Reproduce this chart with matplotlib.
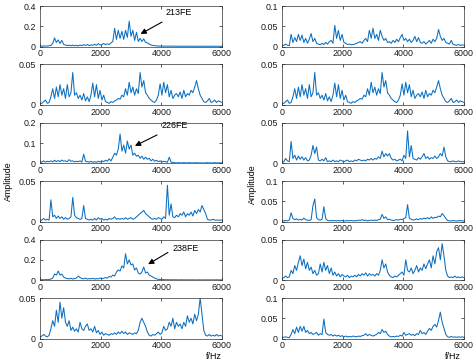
import numpy as np
import matplotlib
matplotlib.use("Agg")
import matplotlib.pyplot as plt

plt.rcParams['font.family'] = ['Liberation Sans', 'DejaVu Sans']

# Spectrum amplitudes, evenly spaced bins from 0 to 6000 Hz (60 Hz step)
L1 = [0.004,0.003,0.006,0.004,0.005,0.007,0.012,0.03,0.085,0.04,
      0.065,0.03,0.06,0.02,0.015,0.01,0.012,0.008,0.014,0.007,
      0.012,0.006,0.015,0.008,0.018,0.01,0.02,0.009,0.016,0.012,
      0.022,0.012,0.028,0.015,0.02,0.03,0.018,0.026,0.02,0.035,
      0.05,0.18,0.07,0.16,0.08,0.15,0.07,0.16,0.09,0.25,
      0.1,0.16,0.06,0.14,0.05,0.08,0.05,0.075,0.04,0.035,
      0.025,0.015,0.01,0.008,0.006,0.005,0.004,0.005,0.003,0.004,
      0.003,0.004,0.003,0.003,0.004,0.003,0.003,0.002,0.003,0.003,
      0.003,0.002,0.003,0.003,0.002,0.003,0.002,0.003,0.002,0.003,
      0.002,0.003,0.002,0.002,0.003,0.002,0.002,0.003,0.002,0.002,
      0.002]
R1 = [0.002,0.003,0.006,0.003,0.002,0.03,0.01,0.022,0.012,0.03,
      0.015,0.028,0.01,0.02,0.008,0.018,0.032,0.012,0.02,0.008,
      0.006,0.004,0.008,0.005,0.01,0.006,0.012,0.015,0.008,0.052,
      0.02,0.04,0.015,0.03,0.01,0.008,0.005,0.006,0.004,0.005,
      0.006,0.008,0.01,0.012,0.008,0.015,0.02,0.012,0.04,0.02,
      0.045,0.02,0.03,0.015,0.04,0.025,0.015,0.02,0.01,0.012,
      0.008,0.015,0.01,0.018,0.012,0.022,0.03,0.015,0.02,0.012,
      0.018,0.01,0.015,0.025,0.012,0.022,0.01,0.008,0.012,0.006,
      0.01,0.015,0.008,0.018,0.012,0.02,0.042,0.025,0.015,0.02,
      0.01,0.008,0.006,0.015,0.005,0.004,0.003,0.005,0.003,0.004,
      0.003]
L2 = [0.001,0.002,0.004,0.006,0.002,0.003,0.01,0.02,0.008,0.022,
      0.01,0.025,0.012,0.02,0.008,0.025,0.01,0.015,0.04,0.012,
      0.015,0.008,0.012,0.006,0.014,0.005,0.01,0.004,0.012,0.027,
      0.01,0.025,0.008,0.018,0.006,0.012,0.004,0.003,0.002,0.004,
      0.003,0.005,0.006,0.008,0.007,0.012,0.01,0.02,0.012,0.028,
      0.015,0.022,0.012,0.02,0.014,0.04,0.022,0.03,0.015,0.012,
      0.008,0.006,0.004,0.003,0.006,0.012,0.026,0.012,0.028,0.015,
      0.025,0.01,0.018,0.008,0.012,0.014,0.01,0.016,0.008,0.018,
      0.01,0.014,0.012,0.018,0.015,0.022,0.03,0.02,0.012,0.008,
      0.004,0.003,0.005,0.008,0.003,0.004,0.006,0.003,0.005,0.004,
      0.003]
R2 = [0.001,0.002,0.004,0.006,0.002,0.003,0.01,0.02,0.008,0.022,
      0.01,0.025,0.012,0.02,0.008,0.025,0.01,0.015,0.04,0.012,
      0.015,0.008,0.012,0.006,0.014,0.005,0.01,0.004,0.012,0.027,
      0.01,0.025,0.008,0.018,0.006,0.012,0.004,0.003,0.002,0.004,
      0.003,0.005,0.006,0.008,0.007,0.012,0.01,0.02,0.012,0.028,
      0.015,0.022,0.012,0.02,0.014,0.04,0.022,0.03,0.015,0.012,
      0.008,0.006,0.004,0.003,0.006,0.012,0.026,0.012,0.028,0.015,
      0.025,0.01,0.018,0.008,0.012,0.014,0.01,0.016,0.008,0.018,
      0.01,0.014,0.012,0.018,0.015,0.022,0.03,0.02,0.012,0.008,
      0.004,0.003,0.005,0.008,0.003,0.004,0.006,0.003,0.005,0.004,
      0.003]
L3 = [0.004,0.006,0.012,0.006,0.01,0.008,0.012,0.007,0.015,0.008,
      0.014,0.008,0.016,0.01,0.012,0.008,0.018,0.01,0.012,0.007,
      0.01,0.008,0.012,0.006,0.045,0.01,0.008,0.006,0.01,0.005,
      0.008,0.005,0.01,0.006,0.012,0.008,0.015,0.01,0.022,0.012,
      0.03,0.05,0.04,0.07,0.145,0.06,0.09,0.05,0.11,0.07,
      0.09,0.04,0.05,0.035,0.04,0.025,0.035,0.02,0.03,0.02,
      0.025,0.012,0.02,0.01,0.015,0.008,0.012,0.006,0.01,0.008,
      0.005,0.03,0.006,0.004,0.003,0.002,0.003,0.002,0.002,0.003,
      0.002,0.002,0.003,0.002,0.002,0.002,0.003,0.002,0.002,0.002,
      0.002,0.002,0.003,0.002,0.002,0.002,0.003,0.002,0.002,0.002,
      0.002]
R3 = [0.001,0.002,0.006,0.003,0.002,0.027,0.006,0.01,0.004,0.009,
      0.005,0.008,0.004,0.007,0.003,0.004,0.01,0.022,0.012,0.02,
      0.004,0.003,0.005,0.003,0.007,0.002,0.003,0.002,0.004,0.002,
      0.003,0.002,0.004,0.003,0.002,0.003,0.004,0.002,0.003,0.002,
      0.004,0.003,0.005,0.004,0.003,0.004,0.003,0.005,0.004,0.006,
      0.004,0.006,0.005,0.008,0.006,0.015,0.008,0.012,0.009,0.012,
      0.006,0.004,0.005,0.003,0.004,0.005,0.003,0.01,0.006,0.04,
      0.008,0.022,0.006,0.005,0.004,0.007,0.005,0.008,0.012,0.006,
      0.008,0.005,0.007,0.006,0.009,0.006,0.008,0.012,0.009,0.02,
      0.008,0.003,0.002,0.002,0.003,0.002,0.002,0.003,0.002,0.002,
      0.002]
L4 = [0.001,0.002,0.004,0.002,0.003,0.002,0.027,0.006,0.008,0.004,
      0.007,0.004,0.006,0.003,0.005,0.003,0.004,0.006,0.03,0.008,
      0.005,0.004,0.003,0.004,0.02,0.004,0.003,0.002,0.003,0.002,
      0.004,0.002,0.005,0.003,0.004,0.002,0.003,0.002,0.004,0.003,
      0.004,0.006,0.003,0.004,0.003,0.004,0.003,0.005,0.003,0.004,
      0.005,0.003,0.004,0.006,0.008,0.01,0.012,0.014,0.01,0.008,
      0.006,0.004,0.003,0.004,0.003,0.005,0.004,0.003,0.006,0.004,
      0.045,0.008,0.022,0.006,0.005,0.008,0.006,0.01,0.008,0.012,
      0.006,0.01,0.008,0.012,0.007,0.014,0.01,0.015,0.012,0.02,
      0.015,0.01,0.003,0.002,0.002,0.003,0.002,0.002,0.002,0.002,
      0.002]
R4 = [0.001,0.002,0.003,0.002,0.004,0.022,0.008,0.005,0.007,0.004,
      0.006,0.004,0.009,0.005,0.004,0.003,0.005,0.04,0.056,0.01,
      0.005,0.004,0.006,0.037,0.008,0.003,0.002,0.003,0.002,0.003,
      0.002,0.003,0.002,0.003,0.002,0.002,0.003,0.002,0.003,0.002,
      0.003,0.002,0.004,0.003,0.005,0.003,0.004,0.002,0.003,0.004,
      0.003,0.004,0.003,0.005,0.006,0.018,0.008,0.012,0.005,0.006,
      0.004,0.003,0.004,0.005,0.004,0.006,0.005,0.008,0.01,0.042,
      0.008,0.006,0.004,0.005,0.007,0.005,0.008,0.006,0.009,0.007,
      0.01,0.007,0.012,0.008,0.011,0.01,0.014,0.012,0.02,0.015,
      0.008,0.003,0.002,0.002,0.003,0.002,0.002,0.002,0.003,0.002,
      0.002]
L5 = [0.003,0.004,0.003,0.005,0.004,0.006,0.01,0.02,0.06,0.05,
      0.09,0.05,0.06,0.03,0.02,0.015,0.012,0.018,0.01,0.015,
      0.02,0.04,0.025,0.015,0.012,0.02,0.01,0.015,0.012,0.018,
      0.01,0.015,0.012,0.02,0.015,0.018,0.025,0.02,0.035,0.03,
      0.05,0.04,0.08,0.1,0.09,0.14,0.12,0.26,0.16,0.2,
      0.15,0.16,0.1,0.12,0.07,0.06,0.08,0.13,0.07,0.08,
      0.05,0.04,0.03,0.02,0.012,0.008,0.006,0.004,0.005,0.003,
      0.004,0.003,0.003,0.004,0.003,0.003,0.002,0.003,0.003,0.002,
      0.003,0.002,0.003,0.002,0.003,0.002,0.002,0.003,0.002,0.002,
      0.002,0.003,0.002,0.002,0.003,0.002,0.002,0.003,0.002,0.002,
      0.002]
R5 = [0.002,0.003,0.005,0.003,0.004,0.012,0.008,0.018,0.012,0.022,
      0.03,0.018,0.026,0.014,0.022,0.012,0.016,0.008,0.012,0.006,
      0.008,0.02,0.01,0.022,0.012,0.018,0.008,0.015,0.006,0.01,
      0.005,0.008,0.004,0.007,0.005,0.004,0.006,0.003,0.005,0.004,
      0.006,0.004,0.007,0.005,0.008,0.006,0.009,0.005,0.008,0.006,
      0.007,0.005,0.008,0.006,0.012,0.025,0.015,0.02,0.01,0.006,
      0.004,0.003,0.005,0.004,0.006,0.008,0.01,0.006,0.025,0.012,
      0.01,0.015,0.008,0.012,0.018,0.01,0.015,0.012,0.02,0.014,
      0.02,0.025,0.015,0.03,0.02,0.035,0.04,0.025,0.045,0.03,
      0.012,0.005,0.003,0.004,0.003,0.005,0.003,0.004,0.003,0.004,
      0.003]
L6 = [0.002,0.003,0.005,0.003,0.002,0.004,0.012,0.022,0.015,0.035,
      0.02,0.045,0.025,0.038,0.02,0.015,0.022,0.01,0.014,0.009,
      0.012,0.008,0.02,0.012,0.01,0.015,0.018,0.01,0.012,0.008,
      0.015,0.007,0.01,0.005,0.008,0.004,0.006,0.005,0.004,0.006,
      0.005,0.007,0.005,0.008,0.006,0.009,0.006,0.008,0.005,0.007,
      0.006,0.005,0.007,0.006,0.01,0.02,0.025,0.02,0.015,0.008,
      0.004,0.003,0.005,0.004,0.006,0.008,0.005,0.007,0.015,0.01,
      0.012,0.02,0.015,0.025,0.012,0.02,0.015,0.018,0.012,0.02,
      0.015,0.028,0.02,0.025,0.018,0.03,0.022,0.03,0.05,0.03,
      0.01,0.004,0.003,0.005,0.003,0.004,0.003,0.005,0.003,0.004,
      0.003]
R6 = [0.002,0.003,0.004,0.003,0.002,0.01,0.022,0.012,0.028,0.015,
      0.03,0.018,0.03,0.015,0.02,0.012,0.015,0.01,0.012,0.015,
      0.008,0.012,0.01,0.048,0.015,0.01,0.008,0.01,0.006,0.009,
      0.006,0.008,0.005,0.007,0.004,0.006,0.004,0.005,0.004,0.006,
      0.005,0.004,0.006,0.005,0.007,0.008,0.012,0.007,0.01,0.008,
      0.006,0.008,0.01,0.015,0.012,0.022,0.015,0.018,0.01,0.006,
      0.004,0.005,0.004,0.006,0.005,0.008,0.006,0.015,0.008,0.01,
      0.012,0.008,0.01,0.007,0.012,0.01,0.02,0.012,0.015,0.01,
      0.018,0.025,0.02,0.03,0.035,0.028,0.045,0.065,0.04,0.025,
      0.01,0.004,0.003,0.005,0.003,0.004,0.003,0.004,0.003,0.004,
      0.003]

left_series = [L1, L2, L3, L4, L5, L6]
right_series = [R1, R2, R3, R4, R5, R6]
left_ymax = [0.4, 0.05, 0.2, 0.05, 0.4, 0.05]
right_ymax = [0.1, 0.05, 0.05, 0.1, 0.05, 0.1]
left_yticks = [[0, 0.2, 0.4], [0, 0.05], [0, 0.1, 0.2], [0, 0.05], [0, 0.2, 0.4], [0, 0.05]]
right_yticks = [[0, 0.05, 0.1], [0, 0.05], [0, 0.05], [0, 0.05, 0.1], [0, 0.05], [0, 0.05, 0.1]]
xticks = [0, 2000, 4000, 6000]

# annotations: (row, label, text position, arrow tail, arrow head)
annotations = [
    (0, "213FE", (4130, 0.333), (4021, 0.241), (3316, 0.124)),
    (2, "226FE", (4000, 0.189), (3858, 0.140), (3130, 0.086)),
    (4, "238FE", (4370, 0.310), (4217, 0.273), (3565, 0.157)),
]

W, H = 474, 363
fig = plt.figure(figsize=(W / 100, H / 100), dpi=100)
line_color = '#0b6fc0'
fs = 6.4

def fmt(v):
    return "0" if v == 0 else ("%g" % v)

axes_left, axes_right = [], []
for k in range(6):
    top = 6 + 58.4 * k
    h = 40.5
    bottom = 1 - (top + h) / H
    for x0, series, ymax, yt, store in [
            (40, left_series[k], left_ymax[k], left_yticks[k], axes_left),
            (282, right_series[k], right_ymax[k], right_yticks[k], axes_right)]:
        ax = fig.add_axes([x0 / W, bottom, 182 / W, h / H])
        y = np.array(series)
        f = np.linspace(0, 6000, len(y))
        ax.plot(f, y, color=line_color, lw=0.75)
        ax.set_xlim(0, 6000)
        ax.set_ylim(0, ymax)
        ax.set_xticks(xticks)
        ax.set_xticklabels([str(t) for t in xticks])
        ax.set_yticks(yt)
        ax.set_yticklabels([fmt(v) for v in yt])
        ax.tick_params(direction='in', top=True, right=True, length=2.5,
                       width=0.5, labelsize=fs, colors='#1a1a1a')
        ax.tick_params(axis='x', pad=2)
        ax.tick_params(axis='y', pad=3)
        for s in ax.spines.values():
            s.set_linewidth(0.5)
            s.set_color('#333333')
        store.append(ax)

for row, label, txy, tail, head in annotations:
    ax = axes_left[row]
    ax.annotate('', xy=head, xytext=tail, textcoords='data', annotation_clip=False,
                arrowprops=dict(arrowstyle='-|>', color='k', lw=0.8,
                                mutation_scale=8, shrinkA=0, shrinkB=0))
    ax.text(txy[0], txy[1], label, fontsize=fs, ha='left', va='center', clip_on=False)

fig.text(8 / W, 1 - 181 / H, "Amplitude", rotation=90, ha='center', va='center', fontsize=fs)
fig.text(252 / W, 1 - 184 / H, "Amplitude", rotation=90, ha='center', va='center', fontsize=fs)
fig.text(214 / W, 1 - 356.5 / H, "f/Hz", ha='center', va='center', fontsize=fs)
fig.text(453 / W, 1 - 356.5 / H, "f/Hz", ha='center', va='center', fontsize=fs)

fig.savefig("out.png", dpi=100, facecolor='white')
